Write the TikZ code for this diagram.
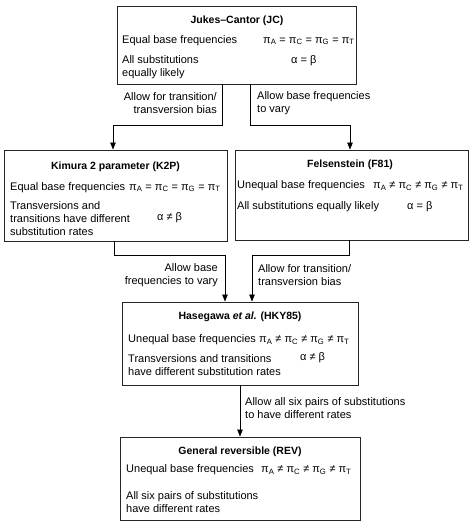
\documentclass[tikz,border=0pt]{standalone}
\usepackage{fontspec}
\setmainfont{Liberation Sans}
\usetikzlibrary{arrows.meta}
\newcommand\pis[1]{π\textsubscript{#1}}
\begin{document}
\begin{tikzpicture}[x=1pt,y=-1pt,
  box/.style={draw=black!85, line width=0.9pt, inner sep=0pt},
  txt/.style={inner sep=0pt, font=\fontsize{11}{13}\selectfont, align=left, anchor=west},
  rtxt/.style={inner sep=0pt, font=\fontsize{11}{13}\selectfont, align=right, anchor=east},
  mth/.style={inner sep=0pt, font=\fontsize{11}{13}\selectfont, anchor=west},
  ttl/.style={inner sep=0pt, font=\fontsize{10.5}{13}\selectfont\bfseries},
  conn/.style={line width=0.7pt, -{Triangle[length=7pt,width=5.5pt]}}
]
\useasboundingbox (0,0) rectangle (474,524);
\fill[white] (0,0) rectangle (474,524);

% boxes
\node[box, minimum width=239pt, minimum height=78pt] (jc) at (236.5,45) {};
\node[box, minimum width=223pt, minimum height=91pt] (k2p) at (115.5,195.5) {};
\node[box, minimum width=233pt, minimum height=90pt] (f81) at (351.5,195) {};
\node[box, minimum width=236pt, minimum height=83pt] (hky) at (240,343.5) {};
\node[box, minimum width=240pt, minimum height=83pt] (rev) at (240,478.5) {};

% JC text
\node[ttl] (jct) at (237,21) {Jukes–Cantor (JC)};
\node[txt] (jc1) at (122,41) {Equal base frequencies};
\node[mth] (jc1m) at (263,41) {\pis{A} = \pis{C} = \pis{G} = \pis{T}};
\node[txt] (jc2) at (122,67) {All substitutions\\equally likely};
\node[mth] (jc2m) at (291,61) {α = β};

% K2P text
\node[ttl] (k2pt) at (115.5,167) {Kimura 2 parameter (K2P)};
\node[txt] (k2p1) at (10,188) {Equal base frequencies};
\node[mth] (k2p1m) at (129,188) {\pis{A} = \pis{C} = \pis{G} = \pis{T}};
\node[txt] (k2p2) at (10,218.5) {Transversions and\\transitions have different\\substitution rates};
\node[mth] (k2p2m) at (157,218) {α ≠ β};

% F81 text
\node[ttl] (f81t) at (350,165) {Felsenstein (F81)};
\node[txt] (f811) at (237,186) {Unequal base frequencies};
\node[mth] (f811m) at (373,186) {\pis{A} ≠ \pis{C} ≠ \pis{G} ≠ \pis{T}};
\node[txt] (f812) at (237,207) {All substitutions equally likely};
\node[mth] (f812m) at (407,207) {α = β};

% HKY text
\node[ttl] (hkyt) at (240,317) {Hasegawa \textit{et al.} (HKY85)};
\node[txt] (hky1) at (128,340) {Unequal base frequencies};
\node[mth] (hky1m) at (259,340) {\pis{A} ≠ \pis{C} ≠ \pis{G} ≠ \pis{T}};
\node[txt] (hky2) at (128,365) {Transversions and transitions\\have different substitution rates};
\node[mth] (hky2m) at (300,358) {α ≠ β};

% REV text
\node[ttl] (revt) at (240,452) {General reversible (REV)};
\node[txt] (rev1) at (126,470) {Unequal base frequencies};
\node[mth] (rev1m) at (261,470) {\pis{A} ≠ \pis{C} ≠ \pis{G} ≠ \pis{T}};
\node[txt] (rev2) at (126,502) {All six pairs of substitutions\\have different rates};

% connector bends
\coordinate (a1) at (222,125);
\coordinate (a2) at (113,125);
\coordinate (b1) at (250,125);
\coordinate (b2) at (350,125);
\coordinate (c1) at (114,255);
\coordinate (c2) at (225,255);
\coordinate (d1) at (349,255);
\coordinate (d2) at (252,255);

\draw[conn] (a1 |- jc.south) -- (a1) -- (a2) -- (a2 |- k2p.north);
\draw[conn] (b1 |- jc.south) -- (b1) -- (b2) -- (b2 |- f81.north);
\draw[conn] (c1 |- k2p.south) -- (c1) -- (c2) -- (c2 |- hky.north);
\draw[conn] (d1 |- f81.south) -- (d1) -- (d2) -- (d2 |- hky.north);
\draw[conn] (hky.south) -- (rev.north);

% connector labels
\node[rtxt] (l1) at (217,103) {Allow for transition/\\transversion bias};
\node[txt] (l2) at (257,103) {Allow base frequencies\\to vary};
\node[rtxt] (l3) at (218,275) {Allow base\\frequencies to vary};
\node[txt] (l4) at (258,275) {Allow for transition/\\transversion bias};
\node[txt] (l5) at (245,408) {Allow all six pairs of substitutions\\to have different rates};
\end{tikzpicture}
\end{document}
